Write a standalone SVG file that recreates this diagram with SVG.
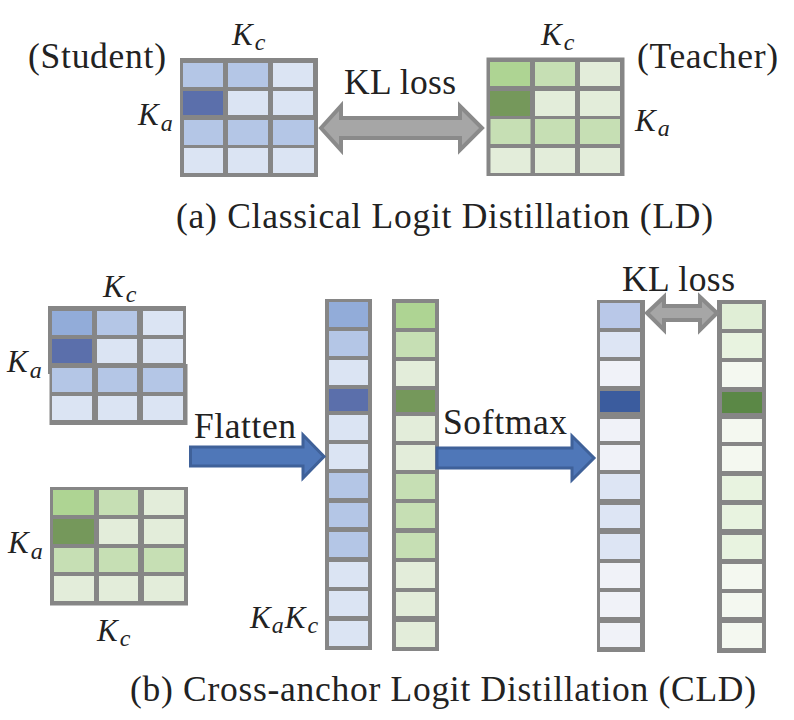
<svg xmlns="http://www.w3.org/2000/svg" width="794" height="720" viewBox="0 0 794 720">
<style>
text{font-family:"Liberation Serif","Times New Roman",serif;fill:#222}
.t{font-size:35.500px}
.m{font-size:31px;font-style:italic}
.m tspan{font-size:24px}
.o{fill:#868686}
.b0{fill:#92acd9}.b1{fill:#b4c6e6}.b2{fill:#dbe4f3}.b3{fill:#5b6fab}.b4{fill:#f0f2f8}.b5{fill:#3b5c9e}.b6{fill:#b9c8e8}.b7{fill:#dde5f4}
.g0{fill:#aed493}.g1{fill:#c6dfb4}.g2{fill:#e3edda}.g3{fill:#75985b}.g4{fill:#f4f8f0}.g5{fill:#5b8846}.g6{fill:#e0eed6}.g7{fill:#e8f3e0}
.ga{fill:#a6a6a6;stroke:#8a8a8a;stroke-width:4}
.ba{fill:#4f77b8;stroke:#3f6199;stroke-width:3}
</style>
<g id="student-grid-a">
<rect class="o" x="180" y="58" width="138" height="119"/>
<rect class="b1" x="183" y="63" width="40" height="24"/><rect class="b1" x="228" y="63" width="40" height="24"/><rect class="b2" x="273" y="63" width="40" height="24"/>
<rect class="b3" x="183" y="91" width="40" height="24"/><rect class="b2" x="228" y="91" width="40" height="24"/><rect class="b2" x="273" y="91" width="40" height="24"/>
<rect class="b1" x="184" y="120" width="39" height="25"/><rect class="b1" x="228" y="120" width="40" height="25"/><rect class="b1" x="273" y="120" width="41" height="25"/>
<rect class="b2" x="184" y="148" width="39" height="25"/><rect class="b2" x="228" y="148" width="40" height="25"/><rect class="b2" x="273" y="148" width="41" height="25"/>
</g>
<g id="teacher-grid-a">
<rect class="o" x="486.500" y="57.500" width="138" height="118.500"/>
<rect class="g0" x="490" y="62" width="40" height="24"/><rect class="g1" x="535" y="62" width="40" height="24"/><rect class="g2" x="580" y="62" width="40" height="24"/>
<rect class="g3" x="490" y="91" width="40" height="25"/><rect class="g2" x="535" y="91" width="40" height="25"/><rect class="g2" x="580" y="91" width="40" height="25"/>
<rect class="g1" x="490.500" y="119" width="40" height="25"/><rect class="g1" x="535" y="119" width="40" height="25"/><rect class="g1" x="580" y="119" width="40" height="25"/>
<rect class="g2" x="490.500" y="148" width="40" height="25"/><rect class="g2" x="535" y="148" width="40" height="25"/><rect class="g2" x="580" y="148" width="40" height="25"/>
</g>
<g id="student-grid-b">
<rect class="o" x="48" y="306" width="138" height="68"/><rect class="o" x="49.500" y="364" width="138" height="61"/>
<rect class="b0" x="52" y="311" width="40" height="24"/><rect class="b1" x="97" y="311" width="40" height="24"/><rect class="b2" x="143" y="311" width="40" height="24"/>
<rect class="b3" x="52" y="339" width="40" height="24"/><rect class="b2" x="97" y="339" width="40" height="24"/><rect class="b2" x="143" y="339" width="40" height="24"/>
<rect class="b1" x="52" y="368" width="40" height="24"/><rect class="b1" x="98" y="368" width="39" height="24"/><rect class="b1" x="143" y="368" width="40" height="24"/>
<rect class="b2" x="52" y="396" width="40" height="24"/><rect class="b2" x="98" y="396" width="39" height="24"/><rect class="b2" x="143" y="396" width="40" height="24"/>
</g>
<g id="teacher-grid-b">
<rect class="o" x="50" y="487" width="138" height="118.500"/>
<rect class="g0" x="53" y="490" width="41" height="25"/><rect class="g1" x="99" y="490" width="39" height="25"/><rect class="g2" x="144" y="490" width="40" height="25"/>
<rect class="g3" x="53" y="519" width="41" height="25"/><rect class="g2" x="99" y="519" width="39" height="25"/><rect class="g2" x="144" y="519" width="40" height="25"/>
<rect class="g1" x="54" y="548" width="40" height="24"/><rect class="g1" x="99" y="548" width="39" height="24"/><rect class="g1" x="144" y="548" width="40" height="24"/>
<rect class="g2" x="54" y="576" width="40" height="25"/><rect class="g2" x="99" y="576" width="39" height="25"/><rect class="g2" x="144" y="576" width="40" height="25"/>
</g>
<g id="column-student-flat">
<rect class="o" x="325" y="299" width="47" height="351"/>
<rect class="b0" x="329" y="302" width="39" height="25"/><rect class="b1" x="329" y="331" width="39" height="25"/><rect class="b2" x="329" y="360" width="39" height="25"/><rect class="b3" x="329" y="389" width="39" height="22"/><rect class="b2" x="329" y="415" width="39" height="25"/><rect class="b2" x="329" y="444" width="39" height="25"/><rect class="b1" x="329" y="473" width="39" height="25"/><rect class="b1" x="329" y="503" width="39" height="24"/><rect class="b1" x="329" y="532" width="39" height="25"/><rect class="b2" x="329" y="562" width="39" height="25"/><rect class="b2" x="329" y="591" width="39" height="25"/><rect class="b2" x="329" y="621" width="39" height="25"/>
</g>
<g id="column-teacher-flat">
<rect class="o" x="392" y="299" width="47" height="352"/>
<rect class="g0" x="396" y="303" width="39" height="25"/><rect class="g1" x="396" y="332" width="39" height="25"/><rect class="g2" x="396" y="361" width="39" height="25"/><rect class="g3" x="396" y="390" width="39" height="22"/><rect class="g2" x="396" y="416" width="39" height="25"/><rect class="g2" x="396" y="445" width="39" height="25"/><rect class="g1" x="396" y="474" width="39" height="25"/><rect class="g1" x="396" y="503" width="39" height="25"/><rect class="g1" x="396" y="533" width="39" height="25"/><rect class="g2" x="396" y="562" width="39" height="26"/><rect class="g2" x="396" y="592" width="39" height="24"/><rect class="g2" x="396" y="622" width="39" height="25"/>
</g>
<g id="column-student-soft">
<rect class="o" x="597" y="300" width="48" height="352"/>
<rect class="b6" x="600" y="303" width="40" height="25"/><rect class="b7" x="600" y="332" width="40" height="25"/><rect class="b4" x="600" y="361" width="40" height="25"/><rect class="b5" x="600" y="391" width="40" height="21"/><rect class="b4" x="600" y="419" width="40" height="22"/><rect class="b4" x="600" y="445" width="40" height="25"/><rect class="b7" x="600" y="474" width="40" height="25"/><rect class="b7" x="600" y="505" width="40" height="23"/><rect class="b7" x="600" y="534" width="40" height="25"/><rect class="b4" x="600" y="563" width="40" height="25"/><rect class="b4" x="600" y="592" width="40" height="25"/><rect class="b4" x="600" y="623" width="40" height="24"/>
</g>
<g id="column-teacher-soft">
<rect class="o" x="717" y="300" width="49" height="353"/>
<rect class="g6" x="722" y="304" width="40" height="25"/><rect class="g7" x="722" y="333" width="40" height="25"/><rect class="g4" x="722" y="362" width="40" height="25"/><rect class="g5" x="722" y="392" width="40" height="21"/><rect class="g4" x="722" y="419" width="40" height="23"/><rect class="g4" x="722" y="446" width="40" height="25"/><rect class="g7" x="722" y="476" width="40" height="24"/><rect class="g7" x="722" y="505" width="40" height="24"/><rect class="g7" x="722" y="535" width="40" height="24"/><rect class="g4" x="722" y="564" width="40" height="25"/><rect class="g4" x="722" y="593" width="40" height="24"/><rect class="g4" x="722" y="623" width="40" height="25"/>
</g>
<g id="connectors">
<path class="ga" d="M321 128L341 106V118H460V106L482 128L460 150V138H341V150Z"/>
<path class="ga" d="M647 313L664 297V306H700V297L717 313L700 330V320H664V330Z"/>
<path class="ba" d="M190.500 447H303V435L324 456.500L303 478V466H190.500Z"/>
<path class="ba" d="M437 448H572V436L594 458L572 480V468H437Z"/>
</g>
<g id="labels">
<text class="t" x="28" y="68" textLength="138">(Student)</text>
<text class="t" x="637" y="68" textLength="141">(Teacher)</text>
<text class="t" x="344" y="94" textLength="112">KL loss</text>
<text class="t" x="176" y="228" textLength="537">(a) Classical Logit Distillation (LD)</text>
<text class="t" x="622" y="291" textLength="113">KL loss</text>
<text class="t" x="194" y="438" textLength="102">Flatten</text>
<text class="t" x="443" y="434" textLength="124">Softmax</text>
<text class="t" x="130" y="701" textLength="626">(b) Cross-anchor Logit Distillation (CLD)</text>
<text class="m" x="232" y="45">K<tspan dx="2" dy="5">c</tspan></text>
<text class="m" x="541" y="45">K<tspan dx="2" dy="5">c</tspan></text>
<text class="m" x="103" y="297">K<tspan dx="2" dy="5">c</tspan></text>
<text class="m" x="97" y="641">K<tspan dx="2" dy="5">c</tspan></text>
<text class="m" x="138" y="125">K<tspan dx="2" dy="6">a</tspan></text>
<text class="m" x="635" y="131">K<tspan dx="2" dy="5">a</tspan></text>
<text class="m" x="7" y="372">K<tspan dx="2" dy="6">a</tspan></text>
<text class="m" x="8" y="553">K<tspan dx="2" dy="6">a</tspan></text>
<text class="m" x="250" y="628">K<tspan dx="1" dy="5">a</tspan><tspan dx="1" dy="-5" style="font-size:31px">K</tspan><tspan dx="2" dy="5">c</tspan></text>
</g>
</svg>
